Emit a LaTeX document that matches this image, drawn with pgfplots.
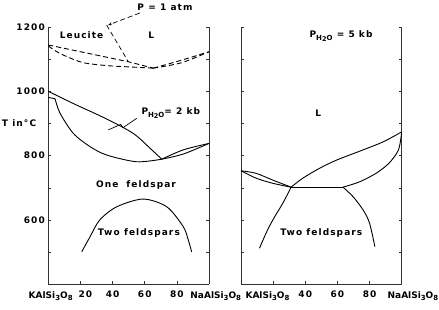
\documentclass[border=0pt]{standalone}
\usepackage{fontspec}
\setmainfont{DejaVu Sans}[LetterSpace=12]
\usepackage{pgfplots}
\pgfplotsset{compat=1.18}
\usetikzlibrary{arrows.meta}
\newcommand\lf{\fontsize{9}{10}\selectfont\bfseries}
\newcommand\sub[1]{\raisebox{-0.5ex}{\fontsize{7}{8}\selectfont #1}}
\newcommand\ssub[1]{\raisebox{-0.4ex}{\fontsize{6.5}{7}\selectfont #1}}
\newcommand\compo[1]{{\addfontfeature{LetterSpace=0}#1Si\sub{3}O\sub{8}}}
\pgfplotsset{panel/.style={
  scale only axis, width=160.7pt, height=257.3pt,
  xmin=0, xmax=100, ymin=400, ymax=1200,
  axis x line*=bottom, axis y line*=box,
  axis line style={-, black!80, line width=0.7pt},
  tick align=inside, xtick pos=bottom, ytick pos=both,
  major tick length=3pt, minor tick length=3pt,
  tick style={black!80, line width=0.6pt},
  ytick={600,800,1000,1200}, minor ytick={500,700,900,1100},
  xtick={20,40,60,80},
  ticklabel style={font=\lf},
  xticklabel style={yshift=-3pt},
  /pgf/number format/assume math mode=true,
  clip=false,
}}
\tikzset{crv/.style={black, line width=0.9pt, smooth, tension=0.5},
         dsh/.style={black, line width=0.9pt, dash pattern=on 5pt off 3pt}}
\begin{document}
\begin{tikzpicture}
\begin{axis}[panel, at={(48.3pt,25.7pt)}, anchor=south west,
  yticklabels={600,800,1000,1200}, xticklabels={\hspace*{10pt}20,40,60,80}]
% 1 atm (dashed)
\addplot[dsh] coordinates {(0,1144) (49.8,1092) (65.3,1072)};
\addplot[dsh, smooth] coordinates {(0,1141) (5,1124) (11.5,1108) (21.8,1089) (36.3,1080) (50,1076) (65.3,1072)};
\addplot[dsh, smooth] coordinates {(65.3,1072) (83,1097) (100,1123)};
\addplot[dsh, smooth] coordinates {(65.3,1072) (83,1089) (100,1123)};
% 2 kb
\addplot[crv] coordinates {(0,1000) (15.6,962) (36.3,914) (52.9,869) (63.3,823) (70.6,789)};
\addplot[black, line width=0.9pt] coordinates {(0,981) (4.2,977)};
\addplot[crv] coordinates {(4.2,977) (7.3,932) (15.6,869) (26,828) (36.3,802) (55,781) (70.6,789)};
\addplot[crv] coordinates {(70.6,789) (84,818) (100,838)};
\addplot[crv] coordinates {(70.6,789) (84,805) (100,838)};
% solvus
\addplot[crv] coordinates {(20.8,501) (26,548) (32,600) (42.6,641) (59,665) (73.7,641) (84,579) (87.1,538) (89.2,501)};
% annotations
\draw[dsh, line width=0.7pt, -{Stealth[length=4pt]}] (axis cs:57,1243.5) -- (axis cs:37.2,1206);
\draw[dsh, line width=0.7pt] (axis cs:36.3,1206) -- (axis cs:49.8,1092);
\draw[black, line width=0.7pt] (axis cs:37.3,880) -- (axis cs:45,897) -- (axis cs:46.5,887) -- (axis cs:55,916);
\node[font=\lf] at (axis cs:72.6,1262) {P = 1 atm};
\node[font=\lf, anchor=base west] at (axis cs:55.8,927) {P\sub{H\ssub{2}O}= 2 kb};
\node[font=\lf] at (axis cs:20.7,1175) {Leucite};
\node[font=\lf] at (axis cs:64,1175) {L};
\node[font=\lf] at (axis cs:54.6,709) {One\hspace{8pt}feldspar};
\node[font=\lf] at (axis cs:56.4,560) {Two feldspars};
\node[font=\lf] at (axis cs:-18.2,901) {T in°C};
\node[font=\lf, anchor=base] at (axis cs:1.5,357) {\compo{KAl}};
\node[font=\lf, anchor=base] at (axis cs:104.2,357) {\compo{NaAl}};
\end{axis}
\begin{axis}[panel, at={(241pt,25.7pt)}, anchor=south west,
  yticklabels={}, xticklabels={,40,60,80}]
\addplot[crv] coordinates {(0,753) (9.4,745) (19.8,724) (31.2,702)};
\addplot[crv] coordinates {(0,753) (9.4,730) (19.8,714) (31.2,702)};
\addplot[black, line width=0.9pt] coordinates {(31.2,702) (63.5,702)};
\addplot[crv] coordinates {(31.2,702) (38.5,730) (49,761) (59.4,786) (76,818) (88.5,843) (100,874)};
\addplot[crv] coordinates {(63.5,702) (74,719) (84,745) (92,776) (98,818) (100,874)};
\addplot[crv] coordinates {(31.2,702) (26,652) (19.8,600) (15.6,559) (11.5,512)};
\addplot[crv] coordinates {(63.5,702) (69.8,672) (76,631) (80,590) (83.3,517)};
\node[font=\lf, anchor=base west] at (axis cs:40.5,1166) {P\sub{H\ssub{2}O} = 5 kb};
\node[font=\lf] at (axis cs:48,933) {L};
\node[font=\lf] at (axis cs:50,558) {Two feldspars};
\node[font=\lf, anchor=base] at (axis cs:16.5,357) {\compo{KAl}};
\node[font=\lf, anchor=base] at (axis cs:107,357) {\compo{NaAl}};
\end{axis}
\pgfresetboundingbox
\path[use as bounding box] (0,0) rectangle (439pt,310pt);
\end{tikzpicture}
\end{document}
